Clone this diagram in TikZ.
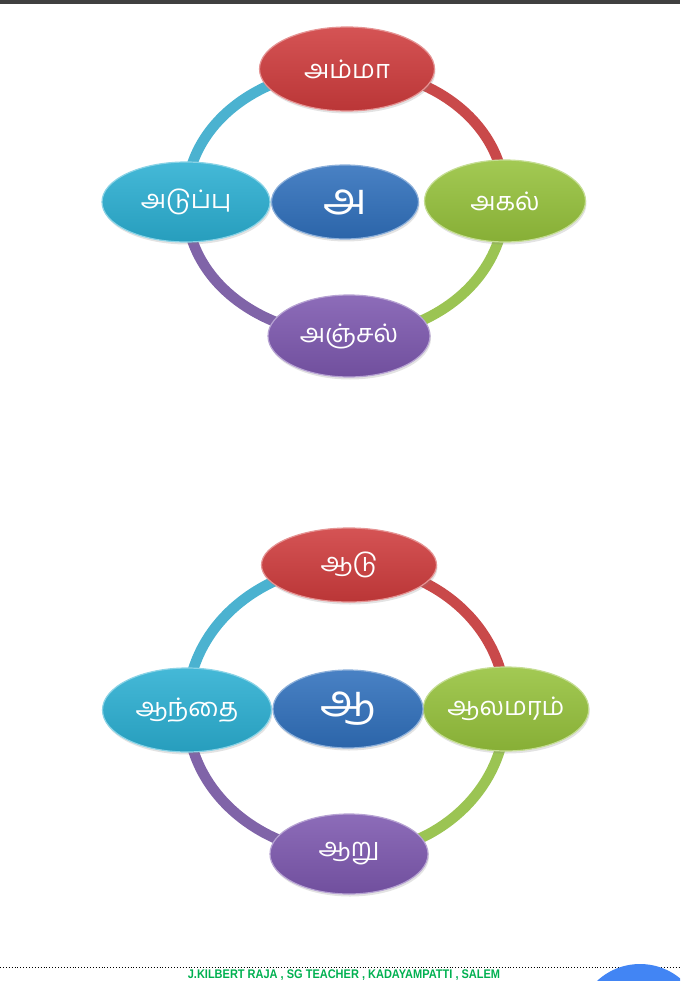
\documentclass[tikz,border=0pt]{standalone}
\usepackage{fontspec}
\setmainfont{Liberation Sans}
\newfontfamily\tamil[Script=Tamil]{Hind Madurai}
\usetikzlibrary{shapes.geometric,backgrounds,shadows}
\definecolor{ringred}{HTML}{C9494A}
\definecolor{ringcyan}{HTML}{4BB2D0}
\definecolor{ringgreen}{HTML}{9BC453}
\definecolor{ringpurple}{HTML}{8064A8}
\definecolor{nred}{HTML}{CF3C3D}
\definecolor{ncyan}{HTML}{2BAFD2}
\definecolor{nblue}{HTML}{3070BC}
\definecolor{ngreen}{HTML}{96C23C}
\definecolor{npurple}{HTML}{7D58AF}
\definecolor{topbar}{HTML}{404040}
\definecolor{footgreen}{HTML}{00B050}
\definecolor{gblue}{HTML}{4285F4}
\begin{document}
\begin{tikzpicture}[x=1pt,y=1pt,
  bub/.style={ellipse, draw=white!45!#1, line width=1.2pt,
    top color=white!12!#1, bottom color=black!10!#1, inner sep=0pt,
    text=white, font=\tamil\fontsize{25.5}{30}\selectfont,
    drop shadow={opacity=0.22, shadow xshift=1pt, shadow yshift=-2.5pt}},
  bigletter/.style={font=\tamil\fontsize{44}{50}\selectfont},
  ring/.style={line width=10.5pt, #1}]
\useasboundingbox (0,0) rectangle (680,-981);
\clip (0,0) rectangle (680,-981);
\fill[topbar] (0,0) rectangle (680,-4);

% ---- diagram 1 ----
\node[bub=nred, minimum width=175pt, minimum height=84pt] (a1) at (347,-69) {அம்மா};
\node[bub=ngreen, minimum width=161pt, minimum height=82pt] (a2) at (505,-201) {அகல்};
\node[bub=npurple, minimum width=162pt, minimum height=82pt] (a3) at (349,-336) {அஞ்சல்};
\node[bub=ncyan, minimum width=168pt, minimum height=80pt] (a4) at (186,-202) {அடுப்பு};
\node[bub=nblue, bigletter, minimum width=147pt, minimum height=74pt] (a0) at (345,-202) {அ};
\begin{scope}[on background layer]
  \draw[ring=ringred] (a1.center) to[out=0,in=90] (a2.center);
  \draw[ring=ringgreen] (a2.center) to[out=-90,in=0] (a3.center);
  \draw[ring=ringpurple] (a3.center) to[out=180,in=-90] (a4.center);
  \draw[ring=ringcyan] (a4.center) to[out=90,in=180] (a1.center);
\end{scope}

% ---- diagram 2 ----
\node[bub=nred, minimum width=175pt, minimum height=74pt] (b1) at (349,-565) {ஆடு};
\node[bub=ngreen, minimum width=162pt, minimum height=84pt] (b2) at (506,-709) {ஆலமரம்};
\node[bub=npurple, minimum width=158pt, minimum height=80pt] (b3) at (349,-854) {ஆறு};
\node[bub=ncyan, minimum width=169pt, minimum height=84pt] (b4) at (187,-710) {ஆந்தை};
\node[bub=nblue, bigletter, minimum width=150pt, minimum height=78pt] (b0) at (348,-709) {ஆ};
\begin{scope}[on background layer]
  \draw[ring=ringred] (b1.center) to[out=0,in=90] (b2.center);
  \draw[ring=ringgreen] (b2.center) to[out=-90,in=0] (b3.center);
  \draw[ring=ringpurple] (b3.center) to[out=180,in=-90] (b4.center);
  \draw[ring=ringcyan] (b4.center) to[out=90,in=180] (b1.center);
\end{scope}

% ---- footer ----
\draw[dotted, line width=0.9pt] (0,-967) -- (680,-967);
\node[anchor=north, inner sep=0pt, text=footgreen,
  font=\bfseries\fontsize{12.5}{14}\selectfont] (foot) at (344,-970)
  {\scalebox{0.88}[1]{J.KILBERT RAJA , SG TEACHER , KADAYAMPATTI , SALEM}};
\fill[gblue] (640,-1027) circle (63);
\end{tikzpicture}
\end{document}
